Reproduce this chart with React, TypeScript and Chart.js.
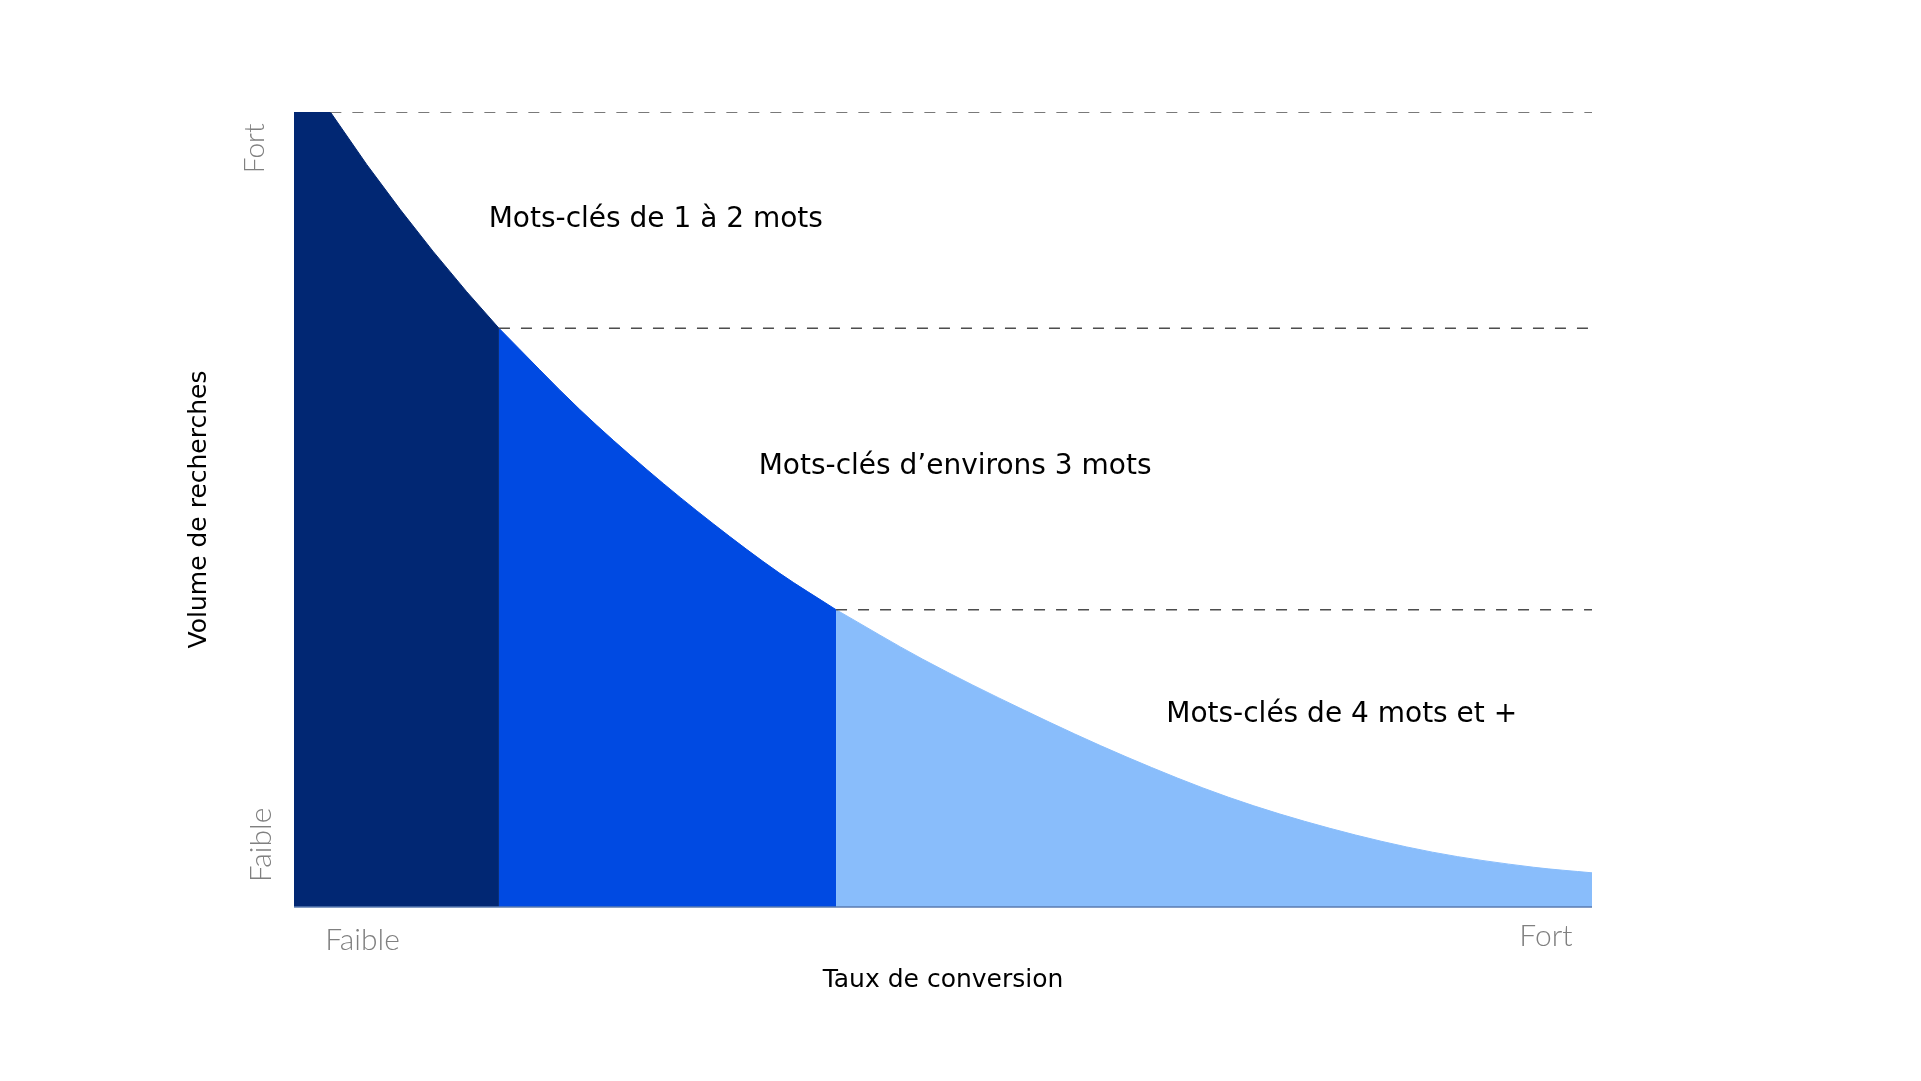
import { useEffect, useRef } from 'react';
import { Chart, registerables } from 'chart.js';
import type { Plugin } from 'chart.js';

Chart.register(...registerables);

// x = taux de conversion, y = volume de recherches (both on a 0-100 scale)
const headX = [0, 2.8, 5.6, 8.2, 10.7, 13.3, 15.79];
const headY = [100, 100, 93.4, 87.7, 82.5, 77.4, 72.8];
const midX = [15.79, 22, 27.2, 32.3, 37.4, 41.76];
const midY = [72.8, 62.6, 55.0, 48.2, 42.0, 37.4];
const tailX = [41.76, 48.4, 56.2, 64.1, 72, 79.8, 87.7, 95.5, 100];
const tailY = [37.4, 31.2, 24.8, 18.9, 13.8, 9.9, 6.9, 5.0, 4.3];

const segmentLabels = [
  'Mots-clés de 1 à 2 mots',
  'Mots-clés d’environs 3 mots',
  'Mots-clés de 4 mots et +',
];
const axisEnds = ['Faible', 'Fort'];
const xTitle = 'Taux de conversion';
const yTitle = 'Volume de recherches';

const colors = ['#012773', '#004ae2', '#89bdfb'];
// the steep first part is almost straight with a sharp corner at the top
const tensions = [0, 0.4, 0.4];
const interpolation = ['default', 'monotone', 'monotone'] as const;
// where each segment label sits, in data units
const labelAnchors = [
  [15, 86.5],
  [35.8, 55.4],
  [67.2, 24.2],
];

const LABEL_FONT = '"DejaVu Sans", sans-serif';
const END_FONT = 'Lato, "Noto Sans", sans-serif';

const toPoints = (xs: number[], ys: number[]) => xs.map((x, i) => ({ x, y: ys[i] }));

const segments = [toPoints(headX, headY), toPoints(midX, midY), toPoints(tailX, tailY)];
// dashed guides start where the curve enters each segment
const guides = [
  { x: headX[1], y: headY[1] },
  { x: midX[0], y: midY[0] },
  { x: tailX[0], y: tailY[0] },
];

const textPlugin: Plugin<'line'> = {
  id: 'funnelText',
  afterDraw(chart) {
    const { ctx, chartArea, scales } = chart;
    const { left, right, top, bottom } = chartArea;
    const xs = scales.x;
    const ys = scales.y;

    ctx.save();
    // x axis line
    ctx.strokeStyle = '#5a7bb0';
    ctx.lineWidth = 1.5;
    ctx.beginPath();
    ctx.moveTo(left, bottom);
    ctx.lineTo(right, bottom);
    ctx.stroke();

    // segment labels
    ctx.fillStyle = '#000';
    ctx.font = `400 28px ${LABEL_FONT}`;
    ctx.textAlign = 'left';
    ctx.textBaseline = 'middle';
    segmentLabels.forEach((label, i) => {
      const [ax, ay] = labelAnchors[i];
      ctx.fillText(label, xs.getPixelForValue(ax), ys.getPixelForValue(ay));
    });

    // axis end labels
    ctx.fillStyle = '#808080';
    ctx.font = `300 30px ${END_FONT}`;
    ctx.textAlign = 'left';
    ctx.fillText(axisEnds[0], xs.getPixelForValue(2.4), bottom + 33);
    ctx.textAlign = 'right';
    ctx.fillText(axisEnds[1], xs.getPixelForValue(98.5), bottom + 29);

    ctx.save();
    ctx.translate(left - 39, ys.getPixelForValue(92.3));
    ctx.rotate(-Math.PI / 2);
    ctx.textAlign = 'left';
    ctx.font = `300 28px ${END_FONT}`;
    ctx.fillText(axisEnds[1], 0, 0);
    ctx.restore();

    ctx.save();
    ctx.translate(left - 33, ys.getPixelForValue(3.1));
    ctx.rotate(-Math.PI / 2);
    ctx.textAlign = 'left';
    ctx.fillText(axisEnds[0], 0, 0);
    ctx.restore();

    // axis titles
    ctx.fillStyle = '#000';
    ctx.font = `400 25px ${LABEL_FONT}`;
    ctx.textAlign = 'center';
    ctx.fillText(xTitle, (left + right) / 2, bottom + 73);

    ctx.save();
    ctx.translate(left - 94.5, (top + bottom) / 2);
    ctx.rotate(-Math.PI / 2);
    ctx.fillText(yTitle, 0, 0);
    ctx.restore();

    ctx.restore();
  },
};

const App = () => {
  const canvasRef = useRef<HTMLCanvasElement>(null);
  const chartRef = useRef<Chart<'line'> | null>(null);

  useEffect(() => {
    const ctx = canvasRef.current?.getContext('2d');
    if (!ctx) return;

    chartRef.current = new Chart(ctx, {
      type: 'line',
      data: {
        datasets: [
          ...segments.map((data, i) => ({
            label: segmentLabels[i],
            data,
            backgroundColor: colors[i],
            borderColor: colors[i],
            borderWidth: 1,
            pointRadius: 0,
            fill: 'origin' as const,
            tension: tensions[i],
            cubicInterpolationMode: interpolation[i],
            order: 2,
          })),
          ...guides.map((g) => ({
            label: 'guide',
            data: [g, { x: 100, y: g.y }],
            borderColor: '#4d4d4d',
            borderWidth: 1.5,
            borderDash: [11, 11],
            pointRadius: 0,
            fill: false,
            order: 1,
          })),
        ],
      },
      options: {
        animation: false,
        responsive: true,
        maintainAspectRatio: false,
        layout: { padding: { left: 294, top: 112, right: 329, bottom: 174 } },
        plugins: {
          legend: { display: false },
          tooltip: { enabled: false },
        },
        scales: {
          x: { type: 'linear', min: 0, max: 100, display: false },
          y: { type: 'linear', min: 0, max: 100, display: false },
        },
      },
      plugins: [textPlugin],
    });

    return () => {
      if (chartRef.current) {
        chartRef.current.destroy();
        chartRef.current = null;
      }
    };
  }, []);

  return (
    <div style={{ position: 'fixed', inset: 0, background: '#fff' }}>
      <canvas ref={canvasRef} />
    </div>
  );
};

export default App;
